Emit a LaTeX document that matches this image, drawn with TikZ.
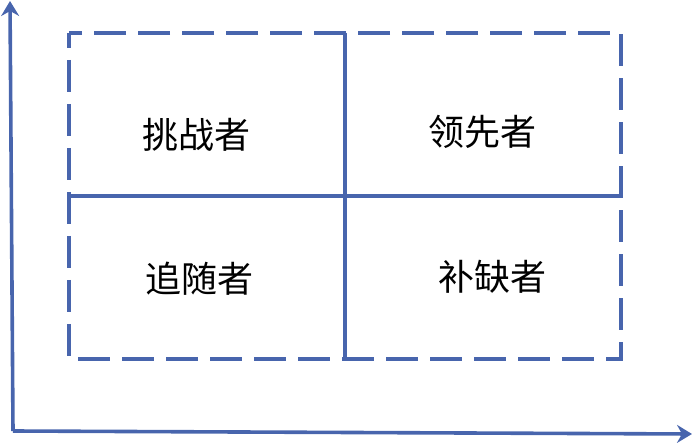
\documentclass[tikz,border=0pt]{standalone}
\usepackage{fontspec}
\usepackage{xcolor}
\usetikzlibrary{arrows.meta}
\newfontfamily\cjk{Noto Sans CJK SC}
\definecolor{axisblue}{RGB}{72,101,173}

\tikzset{
	axisline/.style={line width=3.6pt, axisblue, -{Stealth[length=15pt,width=18pt,inset=5pt]}},
	gridline/.style={line width=3.6pt, axisblue},
	boxline/.style={line width=3.6pt, axisblue, dash pattern=on 32pt off 12pt, dash phase=17pt},
	quadlabel/.style={font=\cjk\fontsize{36pt}{40pt}\selectfont, inner sep=0pt}
}

\begin{document}
\begin{tikzpicture}[x=1pt,y=-1pt]
	\useasboundingbox (0,0) rectangle (693,443);
	% axes
	\coordinate (origin) at (13,431);
	\coordinate (yend) at (10,1);
	\coordinate (xend) at (692,434);
	\draw[axisline] (origin) -- (yend);
	\draw[axisline] (origin) -- (xend);

	% quadrants
	\coordinate (nw) at (69,33);
	\coordinate (se) at (621,359);
	\coordinate (top) at (345,33);
	\coordinate (bottom) at (345,359);
	\coordinate (left) at (69,196);
	\coordinate (right) at (621,196);
	\draw[boxline] (nw) rectangle (se);
	\draw[gridline] (top) -- (bottom);
	\draw[gridline] (left) -- (right);

	\node[quadlabel] (challenger) at (196,135) {挑战者};
	\node[quadlabel] (leader) at (482,132) {领先者};
	\node[quadlabel] (follower) at (199,279) {追随者};
	\node[quadlabel] (niche) at (492,277) {补缺者};
\end{tikzpicture}
\end{document}
